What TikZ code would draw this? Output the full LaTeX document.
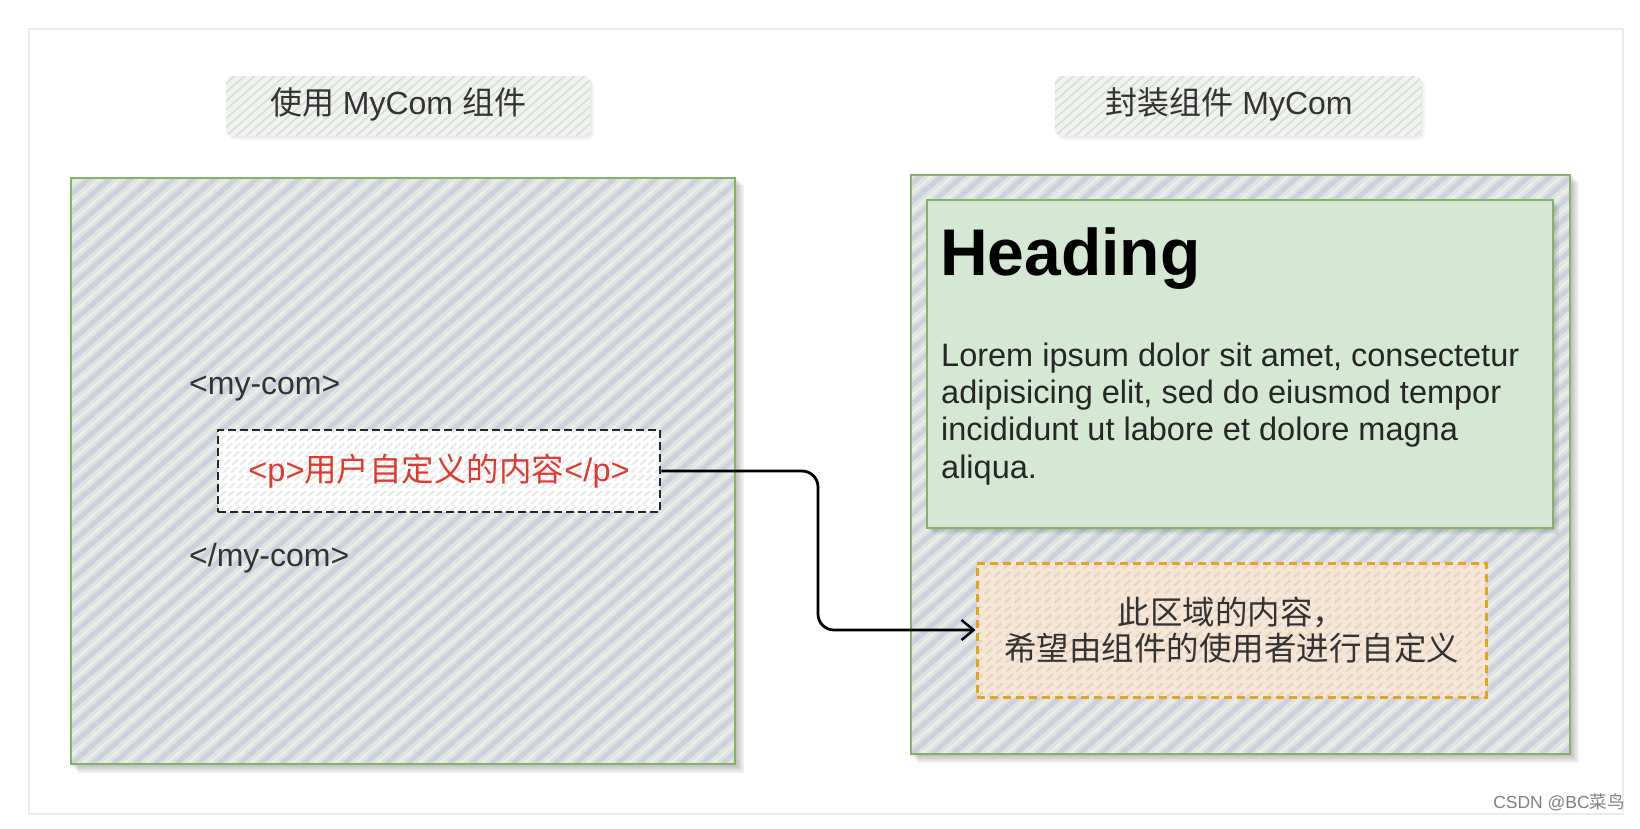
\documentclass[tikz,border=0pt]{standalone}
\usepackage{fontspec}
\setmainfont{Liberation Sans}
\newfontfamily\cjk{Noto Sans CJK SC}
\usetikzlibrary{arrows.meta,backgrounds}
\definecolor{grn}{HTML}{82B366}
\definecolor{grnfill}{HTML}{D5E8D4}
\definecolor{boxfill}{HTML}{DFE4E1}
\definecolor{stripe}{HTML}{CBD2DE}
\definecolor{stripe2}{HTML}{EBEFEA}
\definecolor{orng}{HTML}{E5A41E}
\definecolor{orfill}{HTML}{F6E6D6}
\definecolor{orstripe}{HTML}{E8D4C0}
\definecolor{txt}{HTML}{333333}
\definecolor{redtxt}{HTML}{DD3A30}
\definecolor{framegray}{HTML}{EBEBEB}
\definecolor{titlefill}{HTML}{F1F3F0}
\definecolor{titlestripe}{HTML}{D6DDD3}
\definecolor{pstripe}{HTML}{E2E6E2}
\newcommand\hatchlines[4]{\foreach \k in {-50,...,70}{\draw[#1,line width=#2]([xshift=\k*#3+#4]path picture bounding box.south west) -- ++(800pt,700pt);}}
\tikzset{
  txtfont/.style={font=\fontsize{32}{37.5}\selectfont, text=txt},
  bigbox/.style={draw=grn, line width=2.5pt, fill=boxfill, inner sep=0pt,
    path picture={\hatchlines{stripe}{5pt}{21pt}{0pt}\hatchlines{stripe2}{2pt}{21pt}{11pt}}},
  headbox/.style={draw=grn, line width=2.5pt, fill=grnfill, inner sep=0pt},
  orbox/.style={draw=orng, line width=3pt, dash pattern=on 8pt off 5pt, fill=orfill,
    path picture={\hatchlines{orstripe}{2pt}{10pt}{0pt}}},
  pbox/.style={draw=black!85, line width=2.5pt, dash pattern=on 8pt off 4pt, fill=white,
    path picture={\hatchlines{pstripe}{1.5pt}{8pt}{0pt}}},
  titlebg/.style={fill=titlefill, rounded corners=6pt, inner sep=0pt,
    path picture={\hatchlines{titlestripe}{1.5pt}{10pt}{0pt}}},
  conn/.style={draw=black, line width=2.8pt, rounded corners=16pt,
    -{Straight Barb[length=12pt,width=20pt,line width=2.5pt]}},
}
\begin{document}
\begin{tikzpicture}[x=1pt,y=-1pt]
\useasboundingbox (0,0) rectangle (1640,828);
\begin{scope}[on background layer]
  \fill[white] (0,0) rectangle (1640,828);
\end{scope}
\draw[framegray, line width=1.5pt] (29,29) rectangle (1623,814);

% title backgrounds and titles
\foreach \s in {2,4}{
  \fill[black,opacity=0.04,rounded corners=6pt] (226+\s,76+\s) rectangle (590+\s,136+\s);
  \fill[black,opacity=0.04,rounded corners=6pt] (1055+\s,76+\s) rectangle (1421+\s,136+\s);
}
\node[titlebg, minimum width=364pt, minimum height=60pt] (t1bg) at (408,106) {};
\node[titlebg, minimum width=366pt, minimum height=60pt] (t2bg) at (1238,106) {};
\node[txtfont] (t1) at (398,104) {{\cjk 使用} MyCom {\cjk 组件}};
\node[txtfont] (t2) at (1229,104) {{\cjk 封装组件} MyCom};

% big boxes
\node[bigbox, minimum width=664pt, minimum height=586pt] (lbox) at (403,471) {};
\node[bigbox, minimum width=659pt, minimum height=579pt] (rbox) at (1240.5,464.5) {};

% shadows
\begin{scope}[on background layer]
  \foreach \b in {lbox,rbox}{
    \foreach \s in {2,4,6,8}{
      \fill[black,opacity=0.06] ([shift={(\s pt,-\s pt)}]\b.south west) rectangle ([shift={(\s pt,-\s pt)}]\b.north east);
    }
  }
\end{scope}
\foreach \s in {2,4,6}{
  \fill[black,opacity=0.06] (927+\s,200+\s) rectangle (1553+\s,528+\s);
}
\node[headbox, minimum width=626pt, minimum height=328pt] (hbox) at (1240,364) {};

% heading and paragraph
\node[anchor=base west, inner sep=0pt, font=\fontsize{66}{70}\selectfont\bfseries] (heading) at (940,275) {Heading};
\node[anchor=base west, inner sep=0pt, align=left, font=\fontsize{32.5}{37.2}\selectfont, text=black!85] (lorem) at (941,478)
  {Lorem ipsum dolor sit amet, consectetur\\adipisicing elit, sed do eiusmod tempor\\incididunt ut labore et dolore magna\\aliqua.};

% orange slot box
\node[orbox, minimum width=509pt, minimum height=134pt, align=center, txtfont, font=\fontsize{32.5}{36}\selectfont\cjk] (obox) at (1231.5,630)
  {此区域的内容，\\希望由组件的使用者进行自定义};

% my-com tags
\node[txtfont, anchor=base west, inner sep=0pt] (open) at (189,394) {<my-com>};
\node[txtfont, anchor=base west, inner sep=0pt] (close) at (189,566) {</my-com>};
\node[pbox, minimum width=442pt, minimum height=82pt, font=\fontsize{32.5}{36}\selectfont, text=redtxt] (pb) at (439,471)
  {<p>{\cjk 用户自定义的内容}</p>};

% connector
\coordinate (bend) at (818,630);
\draw[conn] (pb.east) -| (bend) -- (obox.west);

% watermark
\node[anchor=east, inner sep=0pt, font=\fontsize{17.5}{20}\selectfont, text=black!50] (wm) at (1625,802) {CSDN @BC{\cjk 菜鸟}};
\end{tikzpicture}
\end{document}
